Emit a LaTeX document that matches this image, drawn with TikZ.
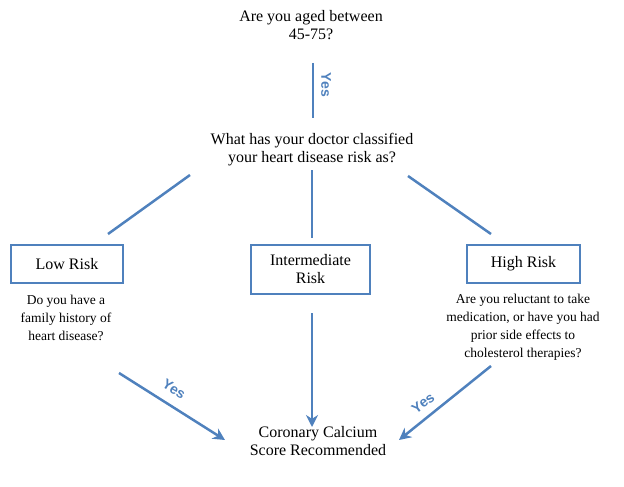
\documentclass[tikz,border=0pt]{standalone}
\usepackage{fontspec}
\setmainfont{Liberation Serif}
\newfontfamily\yesfont{Liberation Sans}
\usetikzlibrary{arrows.meta}
\definecolor{ln}{RGB}{79,129,189}
\begin{document}
\begin{tikzpicture}[x=1pt,y=-1pt,
  txt/.style={align=center,font=\fontsize{16}{18}\selectfont},
  small/.style={align=center,font=\fontsize{13.5}{18}\selectfont},
  box/.style={draw=ln,line width=1.2pt,minimum height=38pt,align=center,font=\fontsize{16}{18}\selectfont},
  con/.style={draw=ln,line width=2.5pt},
  arr/.style={con,-{Stealth[length=12pt,width=12pt]}},
  yes/.style={text=ln,inner sep=0pt,font=\yesfont\bfseries\fontsize{14}{16}\selectfont}]
\useasboundingbox (0,0) rectangle (624,487);
\node[txt] (q1) at (311,25) {Are you aged between\\45-75?};
\node[txt] (q2) at (312,150) {What has your doctor classified\\your heart disease risk as?};
\node[box,minimum width=112pt] (low) at (67,264) {Low Risk};
\node[box,minimum width=119pt,minimum height=49pt] (mid) at (310.5,269.5) {Intermediate\\Risk};
\node[box,minimum width=113pt] (high) at (523.5,264) {High Risk};
\node[small] (lq) at (66,318) {Do you have a\\family history of\\heart disease?};
\node[small] (hq) at (523,327) {Are you reluctant to take\\medication, or have you had\\prior side effects to\\cholesterol therapies?};
\node[txt] (res) at (318,441) {Coronary Calcium\\Score Recommended};
\coordinate (a1) at (313,63); \coordinate (a2) at (313,118);
\draw[con] (a1) -- (a2);
\node[yes,rotate=-90] (y1) at (326,85) {Yes};
\coordinate (l1) at (190,175); \coordinate (l2) at (108,234);
\coordinate (m1) at (312,170); \coordinate (m2) at (312,238);
\coordinate (r1) at (408,176); \coordinate (r2) at (491,234);
\draw[con] (l1) -- (l2);
\draw[con] (m1) -- (m2);
\draw[con] (r1) -- (r2);
\coordinate (b1) at (119,373); \coordinate (b2) at (225,440);
\coordinate (c1) at (312,313); \coordinate (c2) at (312,427);
\coordinate (d1) at (491,366); \coordinate (d2) at (399,440);
\draw[arr] (b1) -- (b2);
\draw[arr] (c1) -- (c2);
\draw[arr] (d1) -- (d2);
\node[yes,rotate=-32] (y2) at (174,389) {Yes};
\node[yes,rotate=37] (y3) at (423,403) {Yes};
\end{tikzpicture}
\end{document}
